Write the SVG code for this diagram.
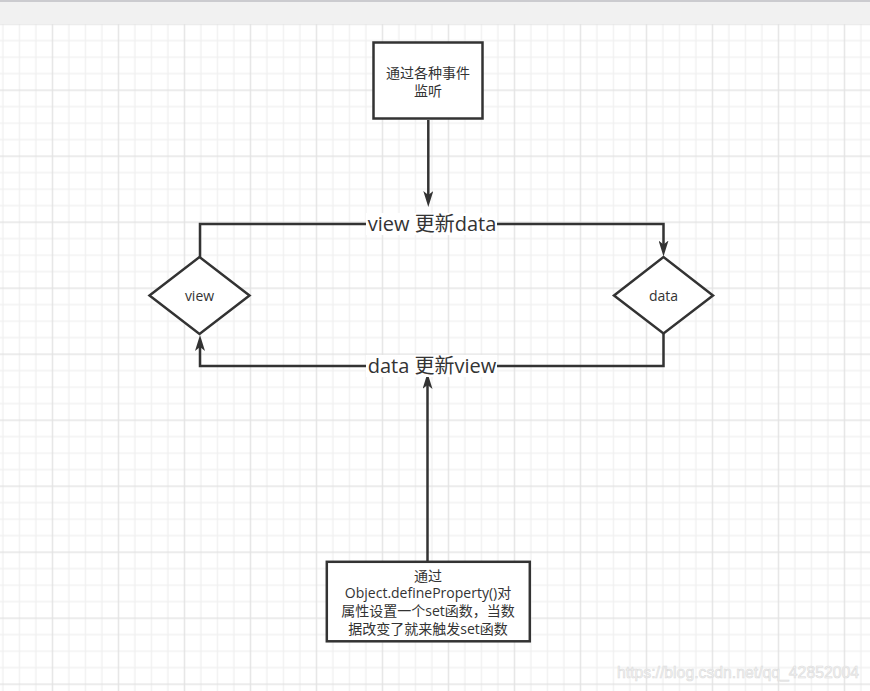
<svg xmlns="http://www.w3.org/2000/svg" width="870" height="691" viewBox="0 0 870 691">
  <style>
    .shape { fill: #ffffff; stroke: #333333; stroke-width: 2.5; }
    .edge { fill: none; stroke: #333333; stroke-width: 2.5; }
    .t { font-family: "Open Sans", "Noto Sans CJK SC", sans-serif; fill: #333333; text-anchor: middle; }
    .s { font-size: 14px; }
    .l { font-size: 20px; }
  </style>
  <defs>
    <pattern id="grid" x="51.75" y="23.5" width="66" height="66" patternUnits="userSpaceOnUse">
      <rect x="16.5" y="0" width="1.3" height="66" fill="#f0f0f0"/>
      <rect x="33" y="0" width="1.3" height="66" fill="#f0f0f0"/>
      <rect x="49.5" y="0" width="1.3" height="66" fill="#f0f0f0"/>
      <rect x="0" y="16.5" width="66" height="1.3" fill="#f0f0f0"/>
      <rect x="0" y="33" width="66" height="1.3" fill="#f0f0f0"/>
      <rect x="0" y="49.5" width="66" height="1.3" fill="#f0f0f0"/>
      <rect x="0" y="0" width="1.3" height="66" fill="#e2e2e2"/>
      <rect x="0" y="0" width="66" height="1.3" fill="#e2e2e2"/>
    </pattern>
    <marker id="arrow" viewBox="0 0 16 10" refX="8" refY="5" markerWidth="16" markerHeight="10" markerUnits="userSpaceOnUse" orient="auto">
      <path d="M0,0 L16,5 L0,10 L4,5 z" fill="#333333"/>
    </marker>
  </defs>

  <rect x="0" y="0" width="870" height="691" fill="#ffffff"/>
  <rect x="0" y="24" width="870" height="667" fill="url(#grid)"/>
  <rect x="0" y="0" width="870" height="24" fill="#f1f1f1"/>
  <rect x="0" y="0" width="870" height="2" fill="#cbcbcf"/>

  <g id="connectors">
    <path class="edge" d="M428.3,120 V199" marker-end="url(#arrow)"/>
    <path class="edge" d="M200,257 V224 H663.5 V248.5" marker-end="url(#arrow)"/>
    <path class="edge" d="M663.5,333.5 V366 H200 V343" marker-end="url(#arrow)"/>
    <path class="edge" d="M427.5,561 V381" marker-end="url(#arrow)"/>
    <g id="label-view-data">
      <rect x="366" y="213" width="131" height="22" fill="#ffffff"/>
      <text class="t l" x="432" y="231">view 更新data</text>
    </g>
    <g id="label-data-view">
      <rect x="366" y="355" width="131" height="22" fill="#ffffff"/>
      <text class="t l" x="432" y="373">data 更新view</text>
    </g>
  </g>

  <g id="node-events">
    <rect class="shape" x="373.5" y="42.5" width="109" height="76"/>
    <text class="t s" x="428" y="78">通过各种事件</text>
    <text class="t s" x="428" y="96">监听</text>
  </g>

  <g id="node-view">
    <polygon class="shape" points="149.5,295.5 199.5,257 249.5,295.5 199.5,334"/>
    <text class="t s" x="199.5" y="301">view</text>
  </g>

  <g id="node-data">
    <polygon class="shape" points="614,295.5 663.5,257 713,295.5 663.5,333.5"/>
    <text class="t s" x="663.5" y="301">data</text>
  </g>

  <g id="node-define">
    <rect class="shape" x="326.8" y="561.8" width="203" height="79.5"/>
    <text class="t s" x="428" y="580.7">通过</text>
    <text class="t s" x="428" y="598.3">Object.defineProperty()对</text>
    <text class="t s" x="428" y="616">属性设置一个set函数，当数</text>
    <text class="t s" x="428" y="633.7">据改变了就来触发set函数</text>
  </g>

  <text x="617" y="678" textLength="242" lengthAdjust="spacingAndGlyphs" font-family="'Liberation Sans', sans-serif" font-size="16" fill="#f4f4f4" stroke="#dcdcdc" stroke-width="0.6">https://blog.csdn.net/qq_42852004</text>
</svg>
